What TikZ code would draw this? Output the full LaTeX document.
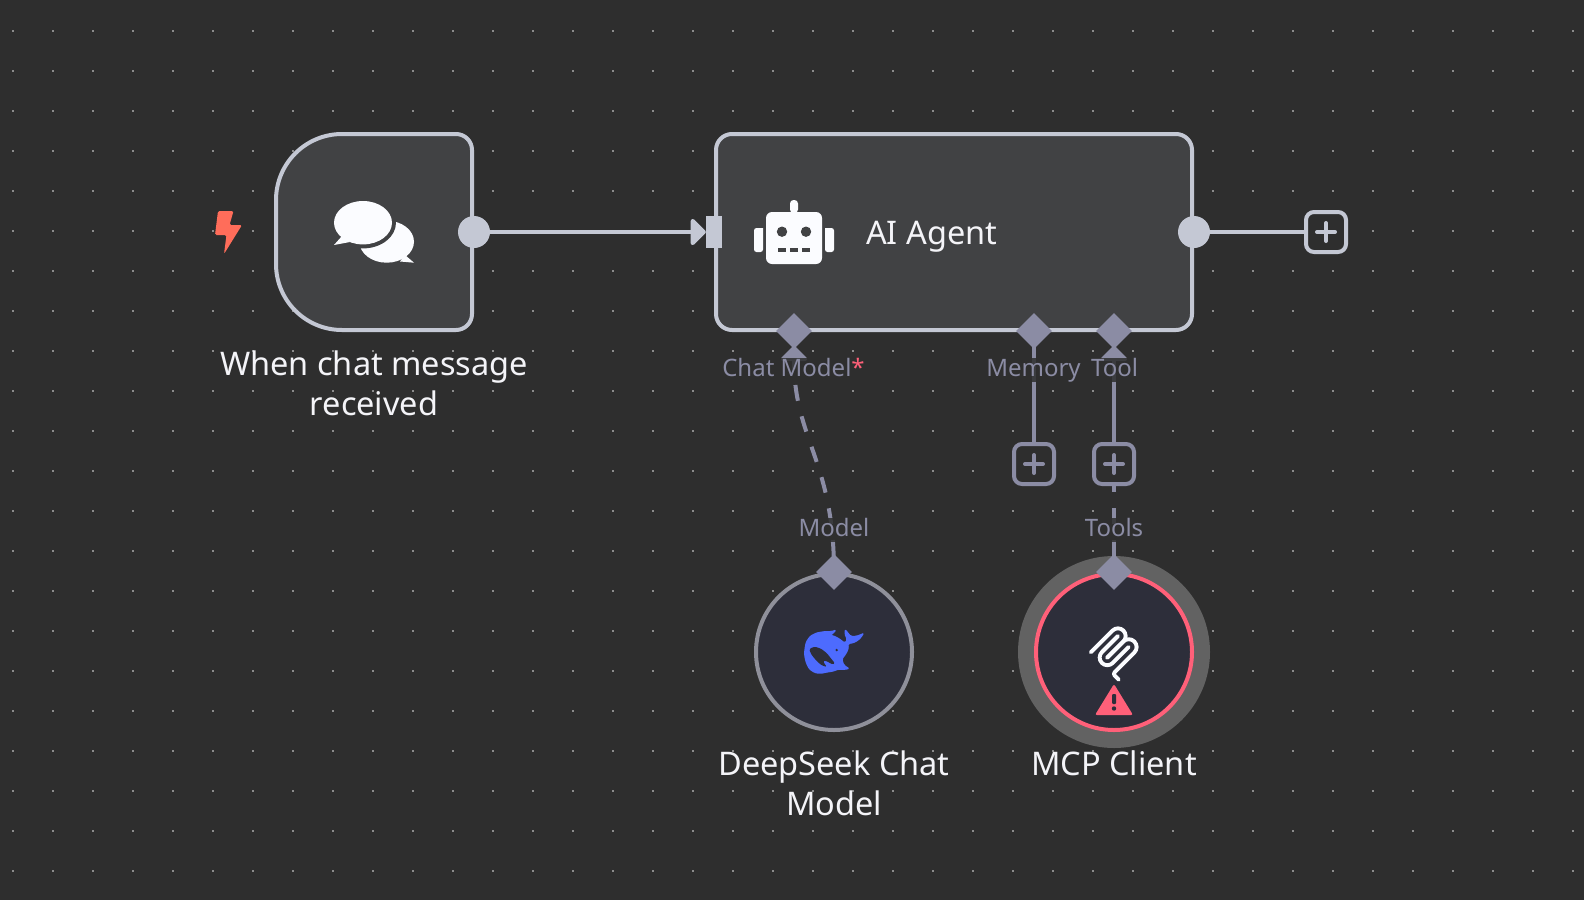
\documentclass[tikz,border=0pt]{standalone}
\usepackage{fontspec}
\setmainfont{Noto Sans}
\usetikzlibrary{shapes,arrows.meta,positioning}
\definecolor{canvas}{HTML}{2E2E2E}
\definecolor{griddot}{HTML}{8C8C8C}
\definecolor{boxfill}{HTML}{414244}
\definecolor{roundfill}{HTML}{2D2E3A}
\definecolor{frame}{HTML}{C4C8D4}
\definecolor{port}{HTML}{8B8CA4}
\definecolor{rim}{HTML}{8F909A}
\definecolor{alert}{HTML}{FF6079}
\definecolor{halo}{HTML}{626262}
\definecolor{bolt}{HTML}{FF6D5A}
\definecolor{whale}{HTML}{4D6BFE}
\definecolor{icon}{HTML}{FBFCFF}
\definecolor{title}{HTML}{F4F4F8}
\pgfdeclarelayer{grid}
\pgfdeclarelayer{edges}
\pgfsetlayers{grid,edges,main}

\begin{document}
\begin{tikzpicture}[x=1pt, y=-1pt]
        \tikzstyle{block} = [rectangle, draw=frame, fill=boxfill, line width=4pt, rounded corners=16pt, inner sep=0pt, outer sep=0pt]
        \tikzstyle{dot} = [circle, fill=frame, minimum size=32pt, inner sep=0pt]
        \tikzstyle{diam} = [diamond, fill=port, minimum size=36pt, inner sep=0pt]
        \tikzstyle{add} = [rectangle, draw, fill=canvas, line width=4pt, rounded corners=8pt, minimum size=40pt, inner sep=0pt, outer sep=2pt]
        \tikzstyle{sub} = [circle, fill=roundfill, line width=4pt, minimum size=156pt, inner sep=0pt, outer sep=0pt]
        \tikzstyle{caption} = [text=title, font=\fontsize{32.5}{40}\selectfont, align=center, inner sep=0pt]
        \tikzstyle{tag} = [text=port, font=\fontsize{24}{24}\selectfont, fill=canvas, fill opacity=0.85, text opacity=1, inner sep=0pt, text height=18pt, text depth=6pt]
        \tikzstyle{line} = [draw=frame, line width=4pt]
        \tikzstyle{link} = [draw=port, line width=4pt]
        \tikzstyle{head} = [-{Triangle[length=16pt, width=31pt, round]}]

        \useasboundingbox (0,0) rectangle (1584,900);
        \begin{pgfonlayer}{grid}
            \fill [canvas] (0,0) rectangle (1584,900);
            \foreach \i in {0,...,39}
                \foreach \j in {0,...,21}
                    \fill [griddot] ({13+40*\i-1},{31+40*\j-1}) rectangle +(2,2);
        \end{pgfonlayer}

        % Trigger
        \node [minimum size=196pt, inner sep=0pt, outer sep=0pt] (trigger) at (374,232) {};
        \draw [draw=frame, fill=boxfill, line width=4pt] (trigger.north) -- ([xshift=66pt]trigger.north west) arc [start angle=90, end angle=180, radius=66pt] -- ([yshift=66pt]trigger.south west) arc [start angle=180, end angle=270, radius=66pt] -- ([xshift=-16pt]trigger.south east) arc [start angle=270, end angle=360, radius=16pt] -- ([yshift=-16pt]trigger.north east) arc [start angle=0, end angle=90, radius=16pt] -- cycle;
        \node [dot] (triggerout) at (474,232) {};
        \node [caption, below=21pt of trigger] (triggertext) {When chat message\\received};
        \fill [bolt, rounded corners=1.5pt] (218,211) -- (233.5,211) -- (229.5,225) -- (242,225) -- (224,254) -- (226.5,235) -- (215,235) -- cycle;

        % Agent
        \node [block, minimum width=476pt, minimum height=196pt] (agent) at (954,232) {};
        \node [rectangle, fill=frame, minimum width=16pt, minimum height=32pt, inner sep=0pt] (agentin) at (714,232) {};
        \node [dot] (agentout) at (1194,232) {};
        \node [caption, anchor=west] (agenttext) at (866,237) {AI Agent};
        \node [add, draw=frame] (addout) at (1326,232) {};

        % Sub nodes
        \node [diam] (chatport) at (794,331) {};
        \node [diam] (memoryport) at (1034,331) {};
        \node [diam] (toolport) at (1114,331) {};
        \node [tag] (chattag) at (793.5,370) {Chat Model\textcolor{alert}{*}};
        \node [tag] (memorytag) at (1033.5,370) {Memory};
        \node [tag] (tooltag) at (1114.5,370) {Tool};
        \node [add, draw=port] (addmemory) at (1034,464) {};
        \node [add, draw=port] (addtool) at (1114,464) {};
        \node [circle, fill=halo, minimum size=192pt, inner sep=0pt] (mcphalo) at (1114,652) {};
        \node [sub, draw=rim] (deepseek) at (834,652) {};
        \node [sub, draw=alert] (mcp) at (1114,652) {};
        \node [diam] (modelport) at (834,572) {};
        \node [diam] (mcpport) at (1114,572) {};
        \node [tag] (modeltag) at (834,530) {Model};
        \node [tag] (toolstag) at (1114,530) {Tools};
        \node [caption, below=21pt of deepseek] (deepseektext) {DeepSeek Chat\\Model};
        \node [caption, below=21pt of mcp] (mcptext) {MCP Client};

        \begin{pgfonlayer}{edges}
            \path [line, head] (triggerout) -- (agentin.west);
            \path [line] (agentout) -- (addout);
            \path [link] (memoryport.center) -- (addmemory);
            \path [link, head, shorten >=15pt] (addtool) -- (toolport.center);
            \path [link, dash pattern=on 16pt off 16pt, dash phase=10pt] (addtool) -- (mcpport.center);
            \path [link, head, shorten >=15pt, dash pattern=on 16pt off 16pt, dash phase=16pt] (modelport.center) .. controls (834,460) and (794,440) .. (chatport.center);
        \end{pgfonlayer}

        % Plus signs
        \foreach \n/\c in {addout/frame, addmemory/port, addtool/port}
            \draw [\c, line width=4pt, line cap=round] (\n.center) +(-9,0) -- +(9,0) (\n.center) +(0,-9) -- +(0,9);

        % Chat bubbles
        \fill [icon] (386.7,241.7) ellipse (27.3 and 21);
        \fill [icon] (405,255) -- (414,262.7) -- (400,261.5) -- cycle;
        \fill [boxfill] (363,222.7) ellipse (33 and 25.7);
        \fill [icon] (363,222.7) ellipse (29 and 21.7);
        \fill [icon] (342,236) -- (334,245) -- (350,242) -- cycle;

        % Robot
        \fill [icon, rounded corners=6pt] (766,212) rectangle (822,264);
        \fill [icon, rounded corners=3.5pt] (790,213) -- (790,200) -- (798,200) -- (798,213) -- cycle;
        \fill [icon, rounded corners=2.5pt] (763,228) -- (754,228) -- (754,252) -- (763,252) [sharp corners] -- cycle;
        \fill [icon, rounded corners=2.5pt] (825,228) -- (834,228) -- (834,252) -- (825,252) [sharp corners] -- cycle;
        \fill [boxfill] (782,231.7) circle (5.2) (806,231.7) circle (5.2);
        \foreach \m in {778,790,802}
            \fill [boxfill] (\m,248) rectangle +(8,4);

        % Whale
        \begin{scope}[x=0.3333pt, y=-0.3333pt, shift={(795pt,-620pt)}]
            \fill [whale, rounded corners=1.5pt] (28,88) -- (32,66) -- (45,47) -- (65,37) -- (90,33) -- (110,33) -- (124,28) -- (118,40) -- (108,44) -- (125,50) -- (140,60) -- (150,68) -- (155,58) -- (148,42) -- (150,26) -- (160,38) -- (168,48) -- (185,47) -- (208,38) -- (200,52) -- (190,62) -- (175,70) -- (160,72) -- (162,85) -- (154,102) -- (142,118) -- (148,135) -- (165,146) -- (150,150) -- (130,149) -- (115,155) -- (95,158) -- (75,162) -- (58,159) -- (42,148) -- (32,128) -- (27,105) -- cycle;
            \fill [roundfill, rounded corners=1.5pt] (43,86) -- (60,80) -- (78,86) -- (96,100) -- (110,118) -- (120,130) -- (114,134) -- (103,128) -- (92,122) -- (84,122) -- (90,134) -- (96,141) -- (80,136) -- (66,124) -- (54,110) -- (46,98) -- cycle;
            \fill [roundfill] (125,90) circle (4);
        \end{scope}

        % MCP mark
        \begin{scope}[x=0.32pt, y=-0.32pt, shift={(1082.8pt,-621pt)}]
            \draw [icon, line width=3.9pt, line cap=round, line join=round] (25,97.85) -- (92.88,29.97) .. controls (102.26,20.6) and (117.45,20.6) .. (126.82,29.97) .. controls (136.2,39.34) and (136.2,54.54) .. (126.82,63.91) -- (75.56,115.18);
            \draw [icon, line width=3.9pt, line cap=round, line join=round] (76.27,114.47) -- (126.82,63.91) .. controls (136.2,54.54) and (151.39,54.54) .. (160.77,63.91) -- (161.12,64.27) .. controls (170.49,73.64) and (170.49,88.83) .. (161.12,98.21) -- (99.72,159.6) .. controls (96.6,162.72) and (96.6,167.79) .. (99.72,170.91) -- (112.33,183.52);
            \draw [icon, line width=3.9pt, line cap=round, line join=round] (109.85,46.94) -- (59.65,97.15) .. controls (50.28,106.52) and (50.28,121.71) .. (59.65,131.09) .. controls (69.02,140.46) and (84.22,140.46) .. (93.59,131.09) -- (143.79,80.88);
        \end{scope}

        % Warning
        \fill [alert, rounded corners=2pt] (1114,684) -- (1133,715) -- (1095,715) -- cycle;
        \fill [roundfill, rounded corners=1pt] (1112,694) rectangle (1116,704);
        \fill [roundfill] (1114,708.5) circle (2.2);
\end{tikzpicture}
\end{document}
